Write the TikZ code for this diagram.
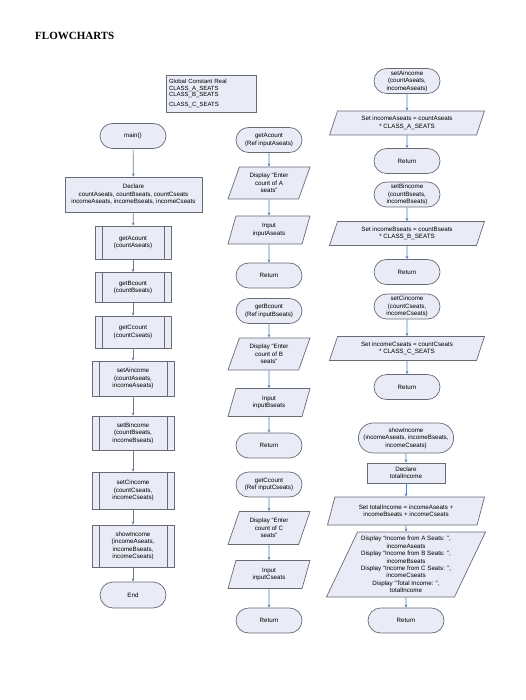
\documentclass[tikz,border=0pt]{standalone}
\usepackage{fontspec}
\setmainfont{Liberation Sans}
\newfontfamily\headfont{Liberation Serif}
\usetikzlibrary{shapes.geometric,shapes.misc,arrows.meta}
\definecolor{boxfill}{RGB}{233,235,246}
\definecolor{boxline}{RGB}{104,106,118}
\definecolor{flowline}{RGB}{84,128,186}

\begin{document}
\begin{tikzpicture}[x=1pt,y=-1pt,
  every node/.style={font=\fontsize{6.2}{7.4}\selectfont,align=center,inner sep=1pt},
  shape base/.style={draw=boxline,fill=boxfill,line width=0.7pt},
  terminal/.style={shape base,rounded rectangle,minimum width=68pt,minimum height=25pt},
  process/.style={shape base,rectangle},
  subcall/.style={shape base,rectangle,minimum width=76pt,minimum height=32pt,
    path picture={\draw[boxline,line width=0.7pt]
      ([xshift=7pt]path picture bounding box.north west) -- ([xshift=7pt]path picture bounding box.south west)
      ([xshift=-7pt]path picture bounding box.north east) -- ([xshift=-7pt]path picture bounding box.south east);}},
  inout/.style={shape base,trapezium,trapezium left angle=62,trapezium right angle=118,trapezium stretches body},
  flow/.style={draw=flowline,line width=0.7pt,-{Stealth[length=3.2pt,width=2.8pt]}}]
\useasboundingbox (0,0) rectangle (525,700);

\node[anchor=west,font=\headfont\bfseries\fontsize{11}{13}\selectfont] (title) at (34,35.5) {FLOWCHARTS};
\node[process,text width=84pt,inner xsep=3pt,align=left,minimum height=37pt,font=\fontsize{6}{6.6}\selectfont] (globalConst) at (211,93.5)
  {Global Constant Real\\CLASS\_A\_SEATS\\CLASS\_B\_SEATS\\[3pt]CLASS\_C\_SEATS};

% main module
\node[terminal] (mainStart) at (133,136) {main()};
\node[process,minimum width=137pt,minimum height=35pt] (declareVars) at (133.5,194.5)
  {Declare\\countAseats, countBseats, countCseats\\incomeAseats, incomeBseats, incomeCseats};
\node[subcall,minimum height=33pt] (getAcall) at (133,242.5) {getAcount\\(countAseats)};
\node[subcall,minimum height=30pt] (getBcall) at (133,287.5) {getBcount\\(countBseats)};
\node[subcall,minimum height=32pt] (getCcall) at (133,332) {getCcount\\(countCseats)};
\node[subcall,minimum width=82pt,minimum height=35pt] (setAcall) at (133,378.5) {setAincome\\(countAseats,\\incomeAseats)};
\node[subcall,minimum width=82pt,minimum height=34pt] (setBcall) at (133,433) {setBincome\\(countBseats,\\incomeBseats)};
\node[subcall,minimum width=82pt,minimum height=37pt] (setCcall) at (133,490.5) {setCincome\\(countCseats,\\incomeCseats)};
\node[subcall,minimum width=82pt,minimum height=42pt] (showCall) at (133,546) {showIncome\\(incomeAseats,\\incomeBseats,\\incomeCseats)};
\node[terminal,minimum height=26pt] (endMain) at (133,595) {End};

% count modules
\node[terminal] (getAstart) at (269,140) {getAcount\\(Ref inputAseats)};
\node[inout,minimum width=82pt,minimum height=32pt] (showA) at (269,183) {Display “Enter\\count of A\\seats”};
\node[inout,minimum width=82pt,minimum height=28pt] (readA) at (269,230) {Input\\inputAseats};
\node[terminal] (retA) at (269,275.5) {Return};

\node[terminal] (getBstart) at (269,311) {getBcount\\(Ref inputBseats)};
\node[inout,minimum width=82pt,minimum height=32pt] (showB) at (269,354) {Display “Enter\\count of B\\seats”};
\node[inout,minimum width=82pt,minimum height=28pt] (readB) at (269,402.5) {Input\\inputBseats};
\node[terminal] (retB) at (269,445.5) {Return};

\node[terminal] (getCstart) at (269,484.5) {getCcount\\(Ref inputCseats)};
\node[inout,minimum width=82pt,minimum height=33pt] (showC) at (269,528) {Display “Enter\\count of C\\seats”};
\node[inout,minimum width=82pt,minimum height=28pt] (readC) at (269,574.5) {Input\\inputCseats};
\node[terminal] (retC) at (269,620.5) {Return};

% income modules
\node[terminal] (setAstart) at (407,81) {setAincome\\(countAseats,\\incomeAseats)};
\node[inout,minimum width=155pt,minimum height=24pt] (calcA) at (407,123) {Set incomeAseats = countAseats\\* CLASS\_A\_SEATS};
\node[terminal] (retSetA) at (407,161) {Return};

\node[terminal] (setBstart) at (407,194.5) {setBincome\\(countBseats,\\incomeBseats)};
\node[inout,minimum width=155pt,minimum height=24pt] (calcB) at (407,233.5) {Set incomeBseats = countBseats\\* CLASS\_B\_SEATS};
\node[terminal] (retSetB) at (407,272) {Return};

\node[terminal] (setCstart) at (407,306.5) {setCincome\\(countCseats,\\incomeCseats)};
\node[inout,minimum width=155pt,minimum height=24pt] (calcC) at (407,348.5) {Set incomeCseats = countCseats\\* CLASS\_C\_SEATS};
\node[terminal] (retSetC) at (407,387) {Return};

\node[terminal,minimum width=78pt,minimum height=30pt] (showStart) at (406,438) {showIncome\\(incomeAseats, incomeBseats,\\incomeCseats)};
\node[process,minimum width=78pt,minimum height=20pt] (declareTotal) at (406,473) {Declare\\totalIncome};
\node[inout,minimum width=157pt,minimum height=28pt] (calcTotal) at (406,511) {Set totalIncome = incomeAseats +\\incomeBseats + incomeCseats};
\node[inout,minimum width=159pt,minimum height=65pt] (showAll) at (406,564.5)
  {Display “Income from A Seats: ”,\\incomeAseats\\Display “Income from B Seats: ”,\\incomeBseats\\Display “Income from C Seats: ”,\\incomeCseats\\Display “Total Income: ”,\\totalIncome};
\node[terminal,minimum width=78pt] (retShow) at (406,620.5) {Return};

\draw[flow] (mainStart) -- (declareVars);
\draw[flow] (declareVars) -- (getAcall);
\draw[flow] (getAcall) -- (getBcall);
\draw[flow] (getBcall) -- (getCcall);
\draw[flow] (getCcall) -- (setAcall);
\draw[flow] (setAcall) -- (setBcall);
\draw[flow] (setBcall) -- (setCcall);
\draw[flow] (setCcall) -- (showCall);
\draw[flow] (showCall) -- (endMain);

\draw[flow] (getAstart) -- (showA);
\draw[flow] (showA) -- (readA);
\draw[flow] (readA) -- (retA);
\draw[flow] (getBstart) -- (showB);
\draw[flow] (showB) -- (readB);
\draw[flow] (readB) -- (retB);
\draw[flow] (getCstart) -- (showC);
\draw[flow] (showC) -- (readC);
\draw[flow] (readC) -- (retC);

\draw[flow] (setAstart) -- (calcA);
\draw[flow] (calcA) -- (retSetA);
\draw[flow] (setBstart) -- (calcB);
\draw[flow] (calcB) -- (retSetB);
\draw[flow] (setCstart) -- (calcC);
\draw[flow] (calcC) -- (retSetC);
\draw[flow] (showStart) -- (declareTotal);
\draw[flow] (declareTotal) -- (calcTotal);
\draw[flow] (calcTotal) -- (showAll);
\draw[flow] (showAll) -- (retShow);
\end{tikzpicture}
\end{document}
